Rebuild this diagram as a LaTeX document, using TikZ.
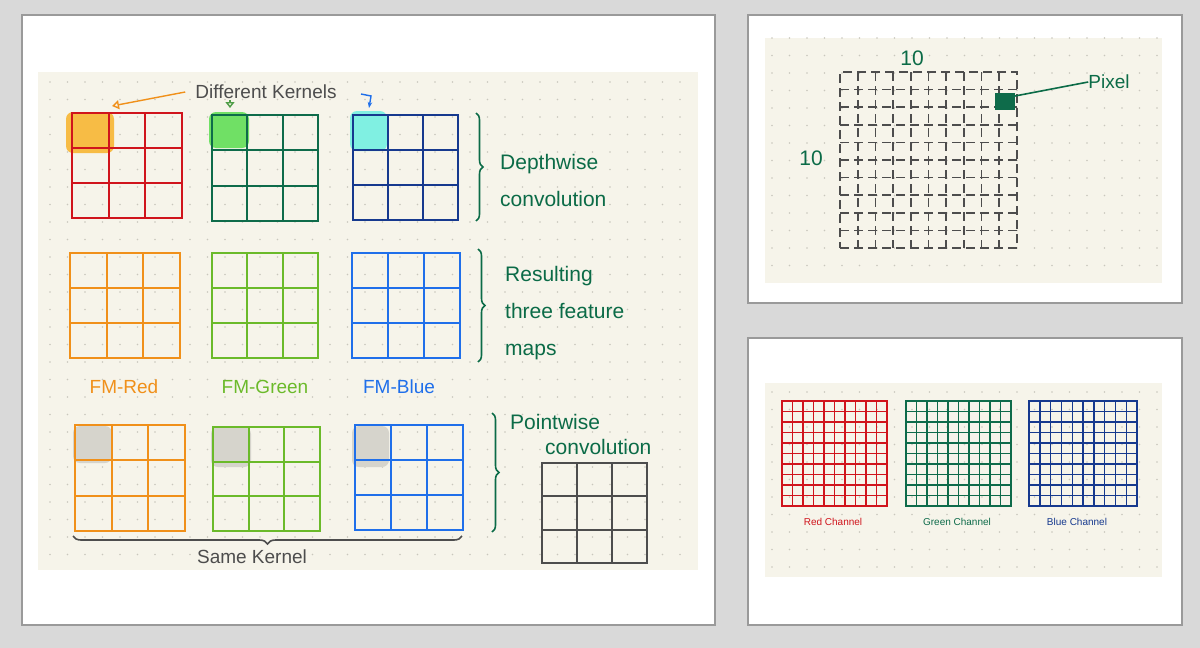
\documentclass[tikz,border=0pt]{standalone}
\usepackage{fontspec}
\setmainfont{Liberation Sans}
\usetikzlibrary{calc,decorations.pathreplacing,arrows.meta}
\definecolor{bgc}{HTML}{D9D9D9}
\definecolor{cream}{HTML}{F6F4EA}
\definecolor{dotc}{HTML}{C9C7BD}
\definecolor{pborder}{HTML}{9A9A9A}
\definecolor{cred}{HTML}{D0141C}
\definecolor{cdgreen}{HTML}{0E6B4A}
\definecolor{cnavy}{HTML}{16398E}
\definecolor{corange}{HTML}{F0901A}
\definecolor{clime}{HTML}{6BBA2A}
\definecolor{cblue}{HTML}{1F6FEA}
\definecolor{cgray}{HTML}{4D4D4D}
\definecolor{ctext}{HTML}{0B6B47}
\definecolor{hlorange}{HTML}{F7BC45}
\definecolor{hlgreen}{HTML}{70E065}
\definecolor{hlcyan}{HTML}{80F0E2}
\definecolor{hlgray}{HTML}{D6D4CC}
\tikzset{
  panel/.style={draw=pborder, fill=white, line width=1.5pt},
  creamarea/.style={fill=cream},
  gridbox/.style={draw, line width=2pt, inner sep=0pt, outer sep=0pt},
  gline/.style={line width=2pt},
  fine/.style={line width=1.4pt},
  hand/.style={font=\fontsize{19}{24}\selectfont, inner sep=0pt},
  bighand/.style={font=\fontsize{21}{37}\selectfont, inner sep=0pt, align=left, text=ctext},
  small/.style={font=\fontsize{10}{12}\selectfont, inner sep=0pt},
  bracket/.style={draw=ctext, line width=1.6pt, decorate, decoration={brace, amplitude=7pt}},
  hl/.style={rounded corners=7pt}
}
% 3x3 grid: name, x1, y1, x2, y2, colour
\newcommand\gthree[6]{%
  \node[gridbox, draw=#6, minimum width={(#4-#2)*1pt}, minimum height={(#5-#3)*1pt}, anchor=north west] (#1) at (#2,#3) {};
  \foreach \k in {1,2} {
    \draw[gline,#6] ($(#1.north west)!\k/3!(#1.north east)$) -- ($(#1.south west)!\k/3!(#1.south east)$);
    \draw[gline,#6] ($(#1.north west)!\k/3!(#1.south west)$) -- ($(#1.north east)!\k/3!(#1.south east)$);
  }
}
% 10x10 grid: name, x1, y1, x2, y2, colour, extra style
\newcommand\gten[7]{%
  \node[gridbox, line width=1.4pt, draw=#6, #7, minimum width={(#4-#2)*1pt}, minimum height={(#5-#3)*1pt}, anchor=north west] (#1) at (#2,#3) {};
  \foreach \k in {1,...,9} {
    \draw[fine,#6,#7] ($(#1.north west)!\k/10!(#1.north east)$) -- ($(#1.south west)!\k/10!(#1.south east)$);
    \draw[fine,#6,#7] ($(#1.north west)!\k/10!(#1.south west)$) -- ($(#1.north east)!\k/10!(#1.south east)$);
  }
}
\begin{document}
\begin{tikzpicture}[x=1pt,y=-1pt]
\useasboundingbox (0,0) rectangle (1200,648);
\fill[bgc] (0,0) rectangle (1200,648);
% panels
\draw[panel] (22,15) rectangle (715,625);
\draw[panel] (748,15) rectangle (1182,303);
\draw[panel] (748,338) rectangle (1182,625);
\fill[creamarea] (38,72) rectangle (698,570);
\fill[creamarea] (765,38) rectangle (1162,283);
\fill[creamarea] (765,383) rectangle (1162,577);
% dots
\foreach \x in {50,67.5,...,690} \foreach \y in {82,99.5,...,565} \fill[dotc] (\x,\y) circle (0.8pt);
\foreach \x in {772,789.5,...,1160} \foreach \y in {38,55.5,...,282} \fill[dotc] (\x,\y) circle (0.8pt);
\foreach \x in {772,789.5,...,1160} \foreach \y in {392,409.5,...,576} \fill[dotc] (\x,\y) circle (0.8pt);

% ---- left panel ----
% highlights row 1
\fill[hlorange, hl] (66,112) rectangle (114,153);
\fill[hlgreen, hl] (209,112) rectangle (249,148);
\fill[hlcyan, hl] (350,111) rectangle (387,151);
% highlights row 3
\fill[hlgray, hl] (73,426) rectangle (112,463);
\fill[hlgray, hl] (211,427) rectangle (251,467);
\fill[hlgray, hl] (352,426) rectangle (389,467);

% row 1 : depthwise kernels
\gthree{k1}{72}{113}{182}{218}{cred}
\gthree{k2}{212}{115}{318}{221}{cdgreen}
\gthree{k3}{353}{115}{458}{220}{cnavy}
% row 2 : feature maps
\gthree{f1}{70}{253}{180}{358}{corange}
\gthree{f2}{212}{253}{318}{358}{clime}
\gthree{f3}{352}{253}{460}{358}{cblue}
% row 3 : pointwise
\gthree{g1}{75}{425}{185}{531}{corange}
\gthree{g2}{213}{427}{320}{531}{clime}
\gthree{g3}{355}{425}{463}{530}{cblue}
\gthree{pw}{542}{463}{647}{563}{cgray}

% labels
\node[hand, text=cgray] (dk) at (266,92) {Different Kernels};
\coordinate (o1) at (112,106);
\coordinate (o2) at (230,108);
\coordinate (o3) at (369,108);
\draw[corange, line width=1.4pt, -{Triangle[open,length=7pt,width=9pt]}] ([xshift=-10pt]dk.west) -- (o1);
\draw[hlgreen!70!black, line width=1.4pt, -{Triangle[open,length=6pt,width=9pt]}] (230,100) -- (o2);
\draw[cblue, line width=1.4pt, -{Stealth[length=6pt]}] (361,94) -- (371,96) -- (o3);

\node[hand, text=corange] (l1) at (124,387) {FM-Red};
\node[hand, text=clime] (l2) at (265,387) {FM-Green};
\node[hand, text=cblue] (l3) at (399,387) {FM-Blue};

\draw[bracket] (476,113) -- (476,221);
\node[bighand, anchor=west] (t1) at (500,180) {Depthwise\\convolution};
\draw[bracket] (478,249) -- (478,362);
\node[bighand, anchor=north west] (t2) at (505,266) {Resulting\\three feature\\maps};
\draw[bracket] (492,413) -- (492,532);
\node[bighand, anchor=west] (t3) at (510,422) {Pointwise};
\node[bighand, anchor=west] (t4) at (545,447) {convolution};

\draw[draw=cgray, line width=1.6pt, decorate, decoration={brace, amplitude=8pt}] (462,536) -- (73,536);
\node[hand, text=cgray] (sk) at (252,557) {Same Kernel};

% ---- right top panel ----
\gten{img}{840}{72}{1017}{248}{cgray}{dash pattern=on 9pt off 5pt, line width=1.7pt}
\fill[cdgreen] (995,93) rectangle (1015,110);
\coordinate (px) at (1015,96);
\node[hand, text=ctext] (pl) at (1109,82) {Pixel};
\draw[ctext, line width=1.6pt] (px) -- (pl.west);
\node[hand, font=\fontsize{21}{24}\selectfont, text=ctext] (n1) at (912,58) {10};
\node[hand, font=\fontsize{21}{24}\selectfont, text=ctext] (n2) at (811,158) {10};

% ---- right bottom panel ----
\gten{rc}{782}{401}{887}{506}{cred}{}
\gten{gc}{906}{401}{1011}{506}{cdgreen}{}
\gten{bc}{1029}{401}{1137}{506}{cnavy}{}
\node[small, text=cred] (rl) at (833,522) {Red Channel};
\node[small, text=cdgreen] (gl) at (957,522) {Green Channel};
\node[small, text=cnavy] (bl) at (1077,522) {Blue Channel};
\end{tikzpicture}
\end{document}
